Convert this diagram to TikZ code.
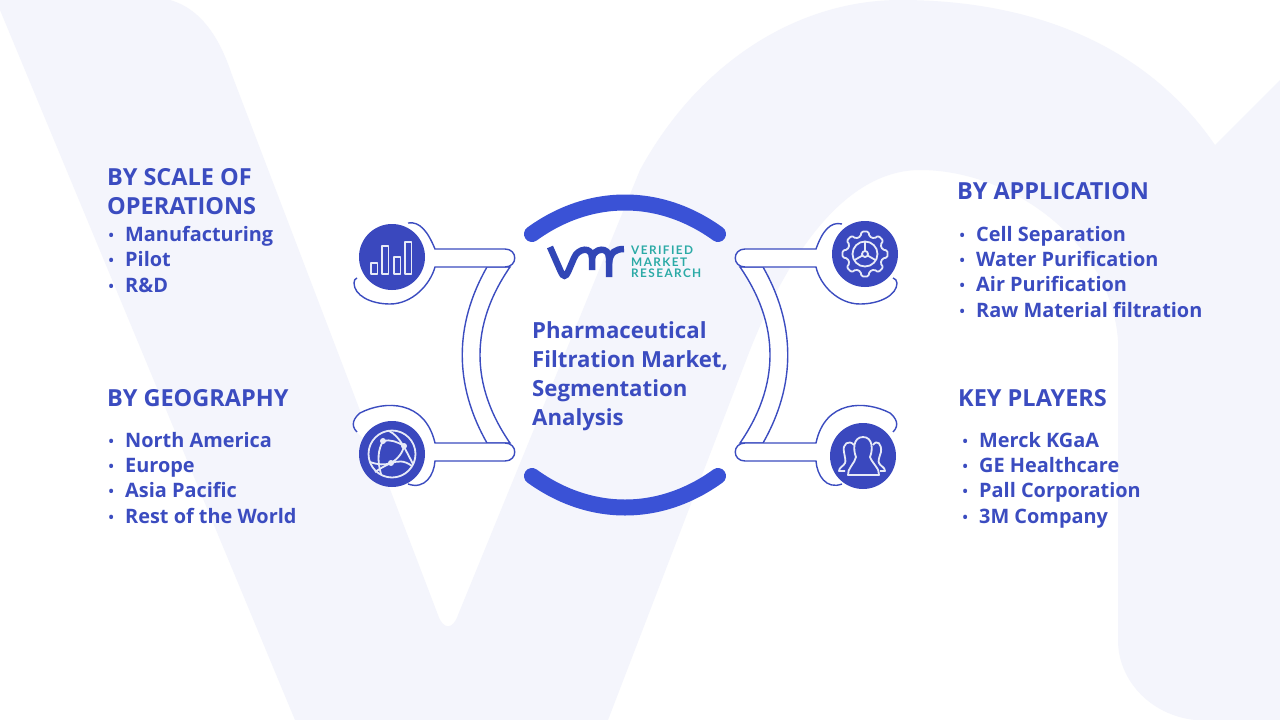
\documentclass[tikz,border=0pt]{standalone}
\usepackage{fontspec}
\setmainfont{Open Sans}
\newfontfamily\logofont[LetterSpace=12]{Lato}
\usetikzlibrary{positioning}
\definecolor{pale}{HTML}{F4F5FC}
\definecolor{inkblue}{HTML}{3B4CC0}
\definecolor{ringblue}{HTML}{3A52D6}
\definecolor{discblue}{HTML}{3A48BE}
\definecolor{logoteal}{HTML}{2BAAA6}
\newcommand{\bul}{\makebox[18pt][l]{\hspace{1.5pt}\raisebox{1pt}{\fontsize{14}{14}\selectfont •}}}
\tikzset{>=latex,
  heading/.style={anchor=north west, inner sep=0pt, text=inkblue, align=left, font=\fontsize{23.5}{29}\selectfont\bfseries},
  titletext/.style={anchor=north west, inner sep=0pt, text=inkblue, align=left, font=\fontsize{22.2}{29}\selectfont\bfseries},
  items/.style={anchor=north west, inner sep=0pt, text=inkblue, align=left, font=\fontsize{19.9}{25.3}\selectfont\bfseries},
  disc/.style={circle, fill=discblue, minimum size=66pt, inner sep=0pt},
  wire/.style={draw=inkblue, line width=1.4pt},
  glyph/.style={draw=white!88!inkblue, line width=1.8pt, line join=round},
  thickarc/.style={draw=ringblue, line width=16pt, line cap=round},
  logostroke/.style={draw=ringblue!85!black, line width=6.5pt}
}
\begin{document}
\begin{tikzpicture}[x=1pt, y=-1pt]
  \useasboundingbox (0,0) rectangle (1280,720);
  \fill[white] (0,0) rectangle (1280,720);
  \fill[pale] (0,0) -- (170,0) .. controls (205,10) and (222,45) .. (232,75) -- (438,615) .. controls (443,630) and (453,630) .. (458,615) -- (640,170) .. controls (700,60) and (800,0) .. (900,0) .. controls (1040,0) and (1150,50) .. (1215,145) -- (1280,80) -- (1280,720) -- (1195,720) .. controls (1150,715) and (1118,680) .. (1118,640) -- (1118,340) .. controls (1110,240) and (1010,170) .. (920,170) .. controls (860,170) and (800,225) .. (750,350) -- (608,720) -- (295,720) -- (0,10) -- cycle;
  % ring
  \draw[thickarc] (532,234) .. controls (590,192) and (660,192) .. (718,234);
  \draw[thickarc] (532,476) .. controls (590,518) and (660,518) .. (718,476);
  % left side
  \draw[wire, fill=white] (487,267) .. controls (454,325) and (454,385) .. (487,443) -- (510,443) .. controls (470,385) and (470,325) .. (510,267) -- cycle;
  \draw[wire, fill=white] (408,223) .. controls (420,221) and (428,232) .. (435,249) -- (505,249) .. controls (518,249) and (518,267) .. (505,267) -- (435,267) .. controls (430,285) and (412,304) .. (390,304) .. controls (370,304) and (354,295) .. (354,283) .. controls (354,280) and (355,279) .. (357,278);
  \draw[wire, fill=white] (357,432) .. controls (350,425) and (354,418) .. (360,413) .. controls (385,400) and (425,400) .. (435,443) -- (505,443) .. controls (518,443) and (518,461) .. (505,461) -- (435,461) .. controls (434,475) and (425,490) .. (408,484);
  \node[disc] (scale) at (392,257) {};
  \node[disc] (geo) at (392,454) {};
  % right side
  \draw[wire, fill=white] (763,267) .. controls (796,325) and (796,385) .. (763,443) -- (740,443) .. controls (780,385) and (780,325) .. (740,267) -- cycle;
  \draw[wire, fill=white] (842,224) .. controls (830,221) and (822,232) .. (816,249) -- (745,249) .. controls (732,249) and (732,267) .. (745,267) -- (816,267) .. controls (820,285) and (838,304) .. (860,304) .. controls (880,304) and (897,295) .. (897,283) .. controls (897,280) and (895,279) .. (893,278);
  \draw[wire, fill=white] (893,432) .. controls (900,425) and (896,418) .. (890,413) .. controls (865,400) and (825,400) .. (816,443) -- (745,443) .. controls (732,443) and (732,461) .. (745,461) -- (816,461) .. controls (817,475) and (826,490) .. (842,484);
  \node[disc] (app) at (865,254) {};
  \node[disc] (players) at (863,456) {};
  % icons
  \begin{scope}[shift={(scale.center)}]
    \foreach \bx/\btop in {-21/6, -10/-11, 2/0, 13/-15}
      \draw[glyph] (\bx,17) rectangle (\bx+6.5,\btop);
  \end{scope}
  \begin{scope}[shift={(geo.center)}]
    \draw[glyph] (0,0) circle (23.5pt);
    \draw[glyph] (-9,-13) .. controls (-2,-15) and (6,-12) .. (12,-8);
    \draw[glyph] (-9,-13) .. controls (-14,-4) and (-15,6) .. (-11,20);
    \draw[glyph] (-3,-23) .. controls (8,-18) and (14,-3) .. (21,10);
    \draw[glyph] (-22,8) .. controls (-14,11) and (-6,11) .. (-1,9) .. controls (6,7) and (12,6) .. (20,12);
    \draw[glyph] (12,-8) .. controls (11,-2) and (6,5) .. (-1,9) .. controls (-8,12) and (-14,16) .. (-17,18);
    \fill[white!88!inkblue] (-9,-13) circle (3pt) (12,-8) circle (3pt) (-1,9) circle (3pt);
  \end{scope}
  \begin{scope}[shift={(app.center)}]
    \draw[glyph, rounded corners=1.5pt] (-14:18) -- (-9:22.7) -- (9:22.7) -- (14:18)
      \foreach \ang in {45,90,135,180,225,270,315} { -- (\ang-14:18) -- (\ang-9:22.7) -- (\ang+9:22.7) -- (\ang+14:18) } -- cycle;
    \draw[glyph] (0,0) circle (12.5pt);
    \draw[glyph] (0,0) circle (3pt);
    \foreach \ang in {30,150,270}
      \draw[glyph] (\ang:3) -- (\ang:12.5);
  \end{scope}
  \begin{scope}[shift={(players.center)}]
    \draw[glyph] (-15,19) -- (16,19) .. controls (17,13) and (9,7) .. (7,1) .. controls (10,-6) and (10,-19) .. (0,-19) .. controls (-10,-19) and (-10,-6) .. (-7,1) .. controls (-8,7) and (-16,13) .. (-15,19) -- cycle;
    \draw[glyph] (-9,-11) .. controls (-14,-17) and (-21,-12) .. (-19,-4) .. controls (-18,2) and (-17,5) .. (-18,7) .. controls (-19,10) and (-24,11) .. (-24,15) -- (-18,15);
    \draw[glyph] (10,-11) .. controls (14,-17) and (19,-12) .. (18,-4) .. controls (16,2) and (15,5) .. (16,7) .. controls (17,10) and (22,11) .. (22,15) -- (17,15);
  \end{scope}
  % logo
  \draw[logostroke] (550,247) -- (561,272) .. controls (563,277) and (566,277) .. (568,272) -- (574,258) .. controls (578,248) and (592,246) .. (592,258) -- (592,270);
  \draw[logostroke] (592,258) .. controls (594,248) and (609,246) .. (609,258) -- (609,277);
  \draw[logostroke] (609,263) .. controls (610,252) and (616,249) .. (624,249);
  \node[anchor=north west, inner sep=0pt, align=left, text=logoteal, font=\logofont\bfseries\fontsize{11.8}{11.6}\selectfont] (brand) at (631,246) {VERIFIED\\MARKET\\RESEARCH};
  % texts
  \node[heading] (scalehead) at (107,168) {BY SCALE OF\\OPERATIONS};
  \node[items] (scalelist) at (107,226) {\bul Manufacturing\\\bul Pilot\\\bul R\&D};
  \node[heading] (geohead) at (107,389) {BY GEOGRAPHY};
  \node[items] (geolist) at (107,432) {\bul North America\\\bul Europe\\\bul Asia Pacific\\\bul Rest of the World};
  \node[heading] (apphead) at (957,182) {BY APPLICATION};
  \node[items] (applist) at (958,226) {\bul Cell Separation\\\bul Water Purification\\\bul Air Purification\\\bul Raw Material filtration};
  \node[heading] (playhead) at (958,389) {KEY PLAYERS};
  \node[items] (playlist) at (961,432) {\bul Merck KGaA\\\bul GE Healthcare\\\bul Pall Corporation\\\bul 3M Company};
  \node[titletext] (title) at (532,321) {Pharmaceutical\\Filtration Market,\\Segmentation\\Analysis};
\end{tikzpicture}
\end{document}
